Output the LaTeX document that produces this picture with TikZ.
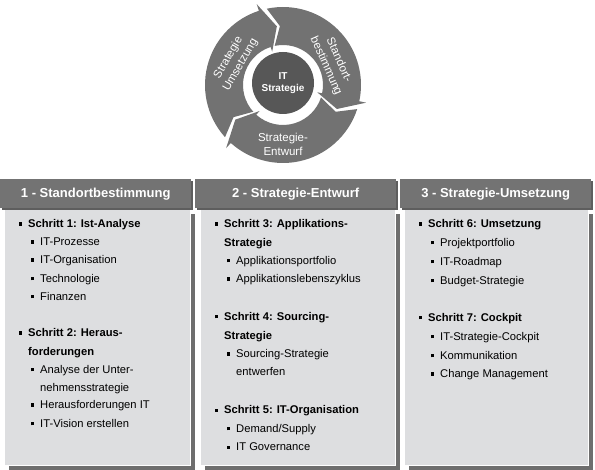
\documentclass[tikz,border=0pt]{standalone}
\usepackage{fontspec}
\setmainfont{Liberation Sans}
\usetikzlibrary{shadows}
\definecolor{kopfgrau}{HTML}{737373}
\definecolor{kopfschatten}{HTML}{5E5E5E}
\definecolor{feldgrau}{HTML}{DDDEE0}
\definecolor{schatten}{HTML}{6E6E6E}
\definecolor{ringgrau}{HTML}{727272}
\definecolor{kerngrau}{HTML}{575757}
\newcommand{\bul}{\rule[2pt]{3.5pt}{3.5pt}}

\begin{document}
\begin{tikzpicture}[x=1pt,y=-1pt,
	kopf/.style={anchor=north west,minimum height=29,inner sep=0pt,fill=kopfgrau,text=white,font=\fontsize{13}{15}\selectfont\bfseries,drop shadow={shadow xshift=2pt,shadow yshift=-2pt,fill=kopfschatten,opacity=1}},
	feld/.style={anchor=north west,minimum height=256,inner sep=0pt,fill=feldgrau,draw=white,line width=0.8pt,drop shadow={shadow xshift=5pt,shadow yshift=-5pt,fill=schatten,opacity=1}},
	schritt/.style={anchor=base west,inner sep=0pt,font=\fontsize{11.2}{13}\selectfont\bfseries,execute at begin node={\llap{\bul\hspace{6pt}}}},
	schrittweiter/.style={anchor=base west,inner sep=0pt,font=\fontsize{11.2}{13}\selectfont\bfseries},
	punkt/.style={anchor=base west,inner sep=0pt,font=\fontsize{11.2}{13}\selectfont,execute at begin node={\llap{\bul\hspace{6pt}}}},
	punktweiter/.style={anchor=base west,inner sep=0pt,font=\fontsize{11.2}{13}\selectfont},
	ringtext/.style={text=white,align=center,inner sep=0pt,font=\fontsize{11.5}{14}\selectfont}]
	\useasboundingbox (0,0) rectangle (595,470);

	\begin{scope}[shift={(283,85)},x=1pt,y=1pt]
		\foreach \a/\b in {98/-22,-22/-142,218/98}
			\fill[ringgrau] ({\a+4}:78) arc[start angle=\a+4,end angle=\b+10,radius=78] -- ({\b+10}:85) -- ({\b-2}:59) -- ({\b+10}:35) -- ({\b+10}:40) arc[start angle=\b+10,end angle=\a+4,radius=40] -- ({\a-5}:59) -- cycle;
		\node[circle,fill=kerngrau,minimum size=62,inner sep=0pt,text=white,align=center,font=\fontsize{10}{12}\selectfont\bfseries] (kern) at (0,2) {IT\\Strategie};
		\node[ringtext,rotate=-66] (r1) at (24:54) {Standort-\\bestimmung};
		\node[ringtext,rotate=60] (r2) at (154:54) {Strategie\\Umsetzung};
		\node[ringtext] (r3) at (-90:59) {Strategie-\\Entwurf};
	\end{scope}

	\node[feld,minimum width=186] (f1) at (4,209) {};
	\node[feld,minimum width=195] (f2) at (200,209) {};
	\node[feld,minimum width=184] (f3) at (404,209) {};
	\node[kopf,minimum width=191] (k1) at (0,179) {1 - Standortbestimmung};
	\node[kopf,minimum width=201] (k2) at (195,179) {2 - Strategie-Entwurf};
	\node[kopf,minimum width=191] (k3) at (400,179) {3 - Strategie-Umsetzung};

	\node[schritt] (s1) at (28,228) {Schritt 1: Ist-Analyse};
	\node[punkt] (s1a) at (40,246) {IT-Prozesse};
	\node[punkt] (s1b) at (40,264) {IT-Organisation};
	\node[punkt] (s1c) at (40,282.5) {Technologie};
	\node[punkt] (s1d) at (40,300.5) {Finanzen};
	\node[schritt] (s2) at (28,337) {Schritt 2: Heraus-};
	\node[schrittweiter] (s2w) at (28,355.5) {forderungen};
	\node[punkt] (s2a) at (40,373.5) {Analyse der Unter-};
	\node[punktweiter] (s2aw) at (40,391.5) {nehmensstrategie};
	\node[punkt] (s2b) at (40,409) {Herausforderungen IT};
	\node[punkt] (s2c) at (40,427.5) {IT-Vision erstellen};

	\node[schritt] (s3) at (224,228) {Schritt 3: Applikations-};
	\node[schrittweiter] (s3w) at (224,246.5) {Strategie};
	\node[punkt] (s3a) at (236,264.5) {Applikationsportfolio};
	\node[punkt] (s3b) at (236,283) {Applikationslebenszyklus};
	\node[schritt] (s4) at (224,320.5) {Schritt 4: Sourcing-};
	\node[schrittweiter] (s4w) at (224,339.5) {Strategie};
	\node[punkt] (s4a) at (236,358) {Sourcing-Strategie};
	\node[punktweiter] (s4aw) at (236,376) {entwerfen};
	\node[schritt] (s5) at (224,414) {Schritt 5: IT-Organisation};
	\node[punkt] (s5a) at (236,432.5) {Demand/Supply};
	\node[punkt] (s5b) at (236,451) {IT Governance};

	\node[schritt] (s6) at (428,228) {Schritt 6: Umsetzung};
	\node[punkt] (s6a) at (440,246.5) {Projektportfolio};
	\node[punkt] (s6b) at (440,265.5) {IT-Roadmap};
	\node[punkt] (s6c) at (440,284.5) {Budget-Strategie};
	\node[schritt] (s7) at (428,321.5) {Schritt 7: Cockpit};
	\node[punkt] (s7a) at (440,340.5) {IT-Strategie-Cockpit};
	\node[punkt] (s7b) at (440,359.5) {Kommunikation};
	\node[punkt] (s7c) at (440,378) {Change Management};
\end{tikzpicture}
\end{document}
